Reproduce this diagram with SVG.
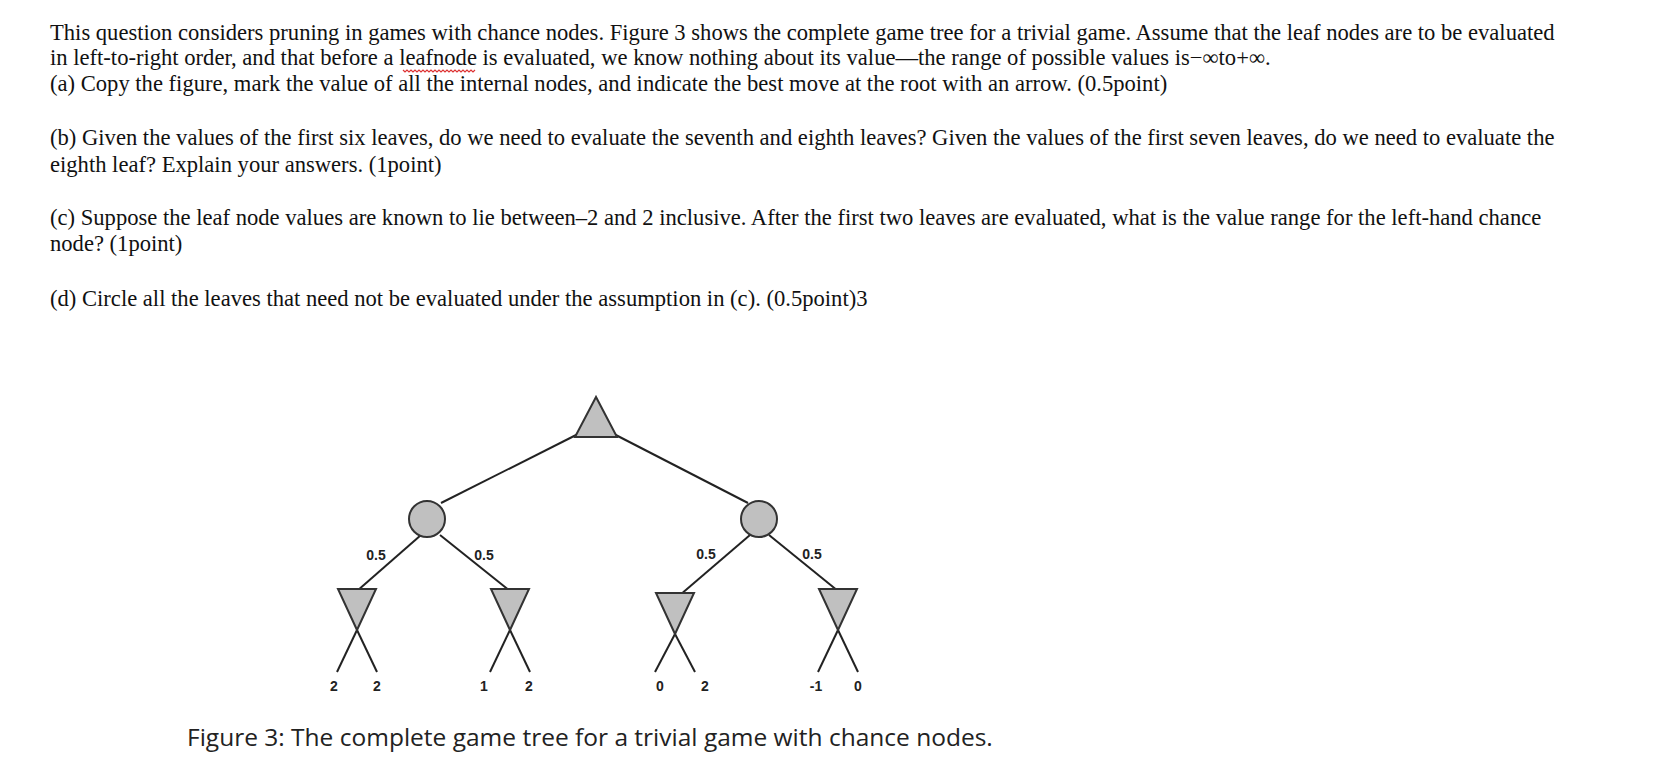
<svg xmlns="http://www.w3.org/2000/svg" width="1664" height="770" viewBox="0 0 1664 770">
<style>
.q{font-family:"Liberation Serif","Times New Roman",serif;font-size:22.6px;fill:#111}
.n{fill:#c0c0c0;stroke:#333;stroke-width:2}
.e{stroke:#222;stroke-width:2;fill:none}
.l{font-family:"Liberation Sans",Arial,sans-serif;font-size:14px;font-weight:bold;fill:#222;text-anchor:middle}
.c{font-family:"Open Sans","Noto Sans",sans-serif;font-size:24.5px;fill:#222}
</style>
<rect width="1664" height="770" fill="#fff"/>
<g id="text">
<text class="q" x="50" y="40">This question considers pruning in games with chance nodes. Figure 3 shows the complete game tree for a trivial game. Assume that the leaf nodes are to be evaluated</text>
<text class="q" x="50" y="65">in left-to-right order, and that before a leafnode is evaluated, we know nothing about its value—the range of possible values is−∞to+∞.</text>
<text class="q" x="50" y="91">(a) Copy the figure, mark the value of all the internal nodes, and indicate the best move at the root with an arrow. (0.5point)</text>
<text class="q" x="50" y="145">(b) Given the values of the first six leaves, do we need to evaluate the seventh and eighth leaves? Given the values of the first seven leaves, do we need to evaluate the</text>
<text class="q" x="50" y="172">eighth leaf? Explain your answers. (1point)</text>
<text class="q" x="50" y="225">(c) Suppose the leaf node values are known to lie between–2 and 2 inclusive. After the first two leaves are evaluated, what is the value range for the left-hand chance</text>
<text class="q" x="50" y="251">node? (1point)</text>
<text class="q" x="50" y="306">(d) Circle all the leaves that need not be evaluated under the assumption in (c). (0.5point)3</text>
<path d="M403 70 l2 2 l2 -2 l2 2 l2 -2 l2 2 l2 -2 l2 2 l2 -2 l2 2 l2 -2 l2 2 l2 -2 l2 2 l2 -2 l2 2 l2 -2 l2 2 l2 -2 l2 2 l2 -2 l2 2 l2 -2 l2 2 l2 -2 l2 2 l2 -2 l2 2 l2 -2 l2 2 l2 -2 l2 2 l2 -2 l2 2 l2 -2 l2 2 l2 -2" stroke="#d33" stroke-width="1.2" fill="none"/>
</g>
<g id="connectors">
<line class="e" x1="582" y1="432" x2="441" y2="503"/>
<line class="e" x1="610" y1="432" x2="748" y2="503"/>
<line class="e" x1="421" y1="535" x2="357" y2="591"/>
<line class="e" x1="440" y1="535" x2="510" y2="591"/>
<line class="e" x1="750" y1="535" x2="680" y2="595"/>
<line class="e" x1="769" y1="535" x2="838" y2="591"/>
<line class="e" x1="357" y1="630" x2="337" y2="672"/><line class="e" x1="357" y1="630" x2="377" y2="672"/>
<line class="e" x1="510" y1="630" x2="490" y2="672"/><line class="e" x1="510" y1="630" x2="530" y2="672"/>
<line class="e" x1="675" y1="634" x2="655" y2="672"/><line class="e" x1="675" y1="634" x2="695" y2="672"/>
<line class="e" x1="838" y1="630" x2="818" y2="672"/><line class="e" x1="838" y1="630" x2="858" y2="672"/>
<text class="l" x="376" y="560">0.5</text>
<text class="l" x="484" y="560">0.5</text>
<text class="l" x="706" y="559">0.5</text>
<text class="l" x="812" y="559">0.5</text>
</g>
<g id="root"><polygon class="n" points="596,397 575,437 617,437"/></g>
<g id="chanceL"><circle class="n" cx="427" cy="519" r="18"/></g>
<g id="chanceR"><circle class="n" cx="759" cy="519" r="18"/></g>
<g id="min1"><polygon class="n" points="338,589 376,589 357,630"/></g>
<g id="min2"><polygon class="n" points="491,589 529,589 510,630"/></g>
<g id="min3"><polygon class="n" points="656,593 694,593 675,634"/></g>
<g id="min4"><polygon class="n" points="819,589 857,589 838,630"/></g>
<g id="leaves">
<text class="l" x="334" y="691">2</text><text class="l" x="377" y="691">2</text>
<text class="l" x="484" y="691">1</text><text class="l" x="529" y="691">2</text>
<text class="l" x="660" y="691">0</text><text class="l" x="705" y="691">2</text>
<text class="l" x="816" y="691">-1</text><text class="l" x="858" y="691">0</text>
</g>
<text class="c" x="187" y="746">Figure 3: The complete game tree for a trivial game with chance nodes.</text>
</svg>
